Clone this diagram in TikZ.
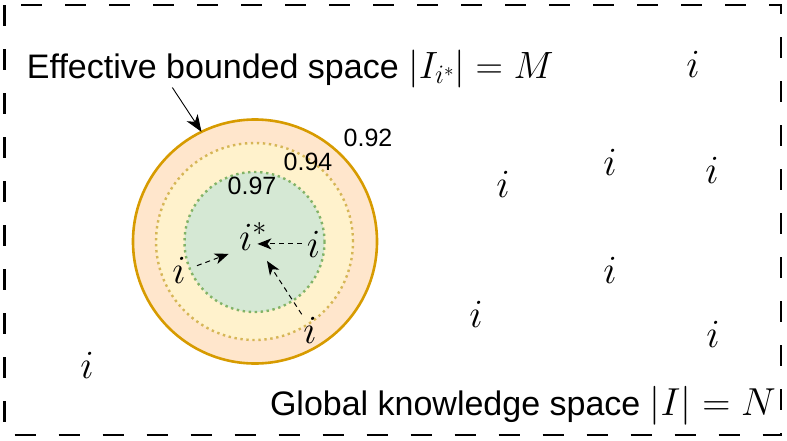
\RequirePackage{fix-cm}
\documentclass[tikz,border=0pt]{standalone}
\usepackage[no-math]{fontspec}
\setmainfont{Liberation Sans}
\usetikzlibrary{arrows.meta,calc}
\definecolor{oFill}{HTML}{FFE6CC}
\definecolor{oDraw}{HTML}{D79B00}
\definecolor{mFill}{HTML}{FFF2CC}
\definecolor{mDraw}{HTML}{D6B656}
\definecolor{gFill}{HTML}{D5E8D4}
\definecolor{gDraw}{HTML}{82B366}
\begin{document}
\begin{tikzpicture}[x=1pt,y=-1pt,
  lbl/.style={inner sep=0pt, outer sep=0pt, anchor=base west, font=\fontsize{34}{40}\selectfont},
  num/.style={inner sep=0pt, outer sep=0pt, font=\fontsize{25}{30}\selectfont},
  iv/.style={inner sep=0pt, outer sep=0pt, anchor=base, font=\fontsize{40}{46}\selectfont},
  ring/.style={circle, inner sep=0pt, outer sep=0pt},
  dotring/.style={ring, line width=2.4pt, dash pattern=on 2.4pt off 3.6pt},
  darr/.style={-{Stealth[length=14pt,width=11pt,inset=4pt]}, line width=1pt, dash pattern=on 5pt off 4pt},
  larr/.style={-{Stealth[length=17pt,width=13pt,inset=5pt]}, line width=0.9pt},
  frame/.style={line width=2.5pt, dash pattern=on 21pt off 23pt}]
\useasboundingbox (0,0) rectangle (787,440);
\draw[frame] (4.5,5) rectangle (781,435);
% rings
\node[ring, minimum size=244pt, draw=oDraw, fill=oFill, line width=2.6pt] (outer) at (255,241.5) {};
\node[dotring, minimum size=197pt, draw=mDraw, fill=mFill] (middle) at (254.5,241.5) {};
\node[dotring, minimum size=140pt, draw=gDraw, fill=gFill] (inner) at (254.5,242) {};
% thresholds
\node[num] (n92) at (368,138) {0.92};
\node[num] (n94) at (308,162) {0.94};
\node[num] (n97) at (252,186) {0.97};
% labels
\node[lbl] (eff) at (27,78) {Effective bounded space {\fontsize{38}{44}\selectfont$|I_{i^*}|=M$}};
\node[lbl] (glob) at (270,415) {Global knowledge space {\fontsize{39}{44}\selectfont$|I|=N$}};
% items
\node[iv, anchor=base west] (istar) at (239,250) {$i^*$};
\node[iv] (il) at (179,283) {$i$};
\node[iv] (ir) at (313.5,257) {$i$};
\node[iv] (ib) at (310,343) {$i$};
\node[iv] (i1) at (693,77) {$i$};
\node[iv] (i2) at (503,197) {$i$};
\node[iv] (i3) at (610,175) {$i$};
\node[iv] (i4) at (712,183) {$i$};
\node[iv] (i5) at (610,283) {$i$};
\node[iv] (i6) at (476,327) {$i$};
\node[iv] (i7) at (713,347) {$i$};
\node[iv] (i8) at (87,378) {$i$};
% connectors
\draw[darr, shorten <=12pt, shorten >=11pt] (il.east) -- (istar.south west);
\draw[darr, shorten <=5pt] (ir.west) -- ($(istar.center |- ir.west)+(4.5,0)$);
\draw[darr, shorten <=3pt, shorten >=13pt] (ib.north west) -- ($(istar.south)!0.5!(istar.south east)$);
\draw[larr] ($(eff.south west)!0.276!(eff.south east)$) -- (outer.116);
\end{tikzpicture}
\end{document}
